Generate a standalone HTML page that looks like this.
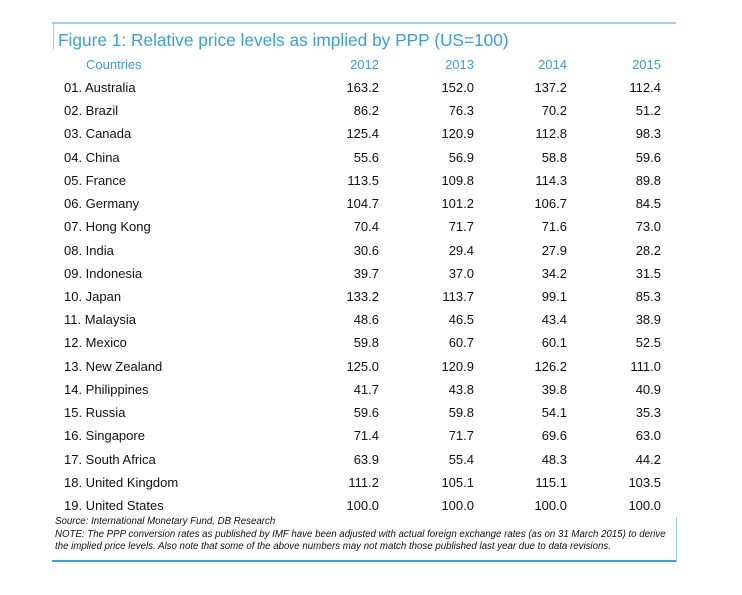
<!DOCTYPE html>
<html><head><meta charset="utf-8"><style>
body{margin:0;width:742px;height:595px;background:#fff;position:relative;font-family:"Liberation Sans",Arial,sans-serif;overflow:hidden}
.a{position:absolute;white-space:nowrap}
.r{text-align:right;width:80px}
.t{font-size:13px;color:#111}
.h{font-size:13px;color:#3aa0dc}
.s{font-size:9.7px;font-style:italic;color:#111}
</style></head><body>
<div class="a" style="left:52px;top:22px;width:624px;height:2px;background:#9ccfee"></div>
<div class="a" style="left:53px;top:22px;width:1px;height:27px;background:#9ccfee"></div>
<div class="a" style="left:52px;top:560px;width:625px;height:2px;background:#3aa0dc"></div>
<div class="a" style="left:676px;top:517px;width:1px;height:45px;background:#9ccfee"></div>
<div class="a" style="left:58px;top:30px;font-size:17.3px;color:#3aa0dc">Figure 1: Relative price levels as implied by PPP (US=100)</div>
<div id="tbl"></div>
<div class="a s" style="left:55px;top:516px">Source: International Monetary Fund, DB Research</div>
<div class="a s" style="left:55px;top:529px;line-height:11.5px">NOTE: The PPP conversion rates as published by IMF have been adjusted with actual foreign exchange rates (as on 31 March 2015) to derive<br>the implied price levels. Also note that some of the above numbers may not match those published last year due to data revisions.</div>
<script>
const years=["2012","2013","2014","2015"];
const countries=["01. Australia","02. Brazil","03. Canada","04. China","05. France","06. Germany","07. Hong Kong","08. India","09. Indonesia","10. Japan","11. Malaysia","12. Mexico","13. New Zealand","14. Philippines","15. Russia","16. Singapore","17. South Africa","18. United Kingdom","19. United States"];
const v2012=[163.2,86.2,125.4,55.6,113.5,104.7,70.4,30.6,39.7,133.2,48.6,59.8,125.0,41.7,59.6,71.4,63.9,111.2,100.0];
const v2013=[152.0,76.3,120.9,56.9,109.8,101.2,71.7,29.4,37.0,113.7,46.5,60.7,120.9,43.8,59.8,71.7,55.4,105.1,100.0];
const v2014=[137.2,70.2,112.8,58.8,114.3,106.7,71.6,27.9,34.2,99.1,43.4,60.1,126.2,39.8,54.1,69.6,48.3,115.1,100.0];
const v2015=[112.4,51.2,98.3,59.6,89.8,84.5,73.0,28.2,31.5,85.3,38.9,52.5,111.0,40.9,35.3,63.0,44.2,103.5,100.0];
const cols=[v2012,v2013,v2014,v2015];
const right=[379,474,567,661];
const tb=document.getElementById('tbl');
function mk(cls,txt,x,y){const d=document.createElement('div');d.className='a '+cls;d.textContent=txt;d.style.left=x+'px';d.style.top=y+'px';tb.appendChild(d);return d;}
let e=mk('h','Countries',86,57);


years.forEach((y,j)=>{const d=mk('h r',y,right[j]-80,57);

});
countries.forEach((c,i)=>{const y=80+i*23.22;
const d=mk('t',c,64,y);


cols.forEach((col,j)=>{const n=mk('t r',col[i].toFixed(1),right[j]-80,y);

});});
</script>
</body></html>
